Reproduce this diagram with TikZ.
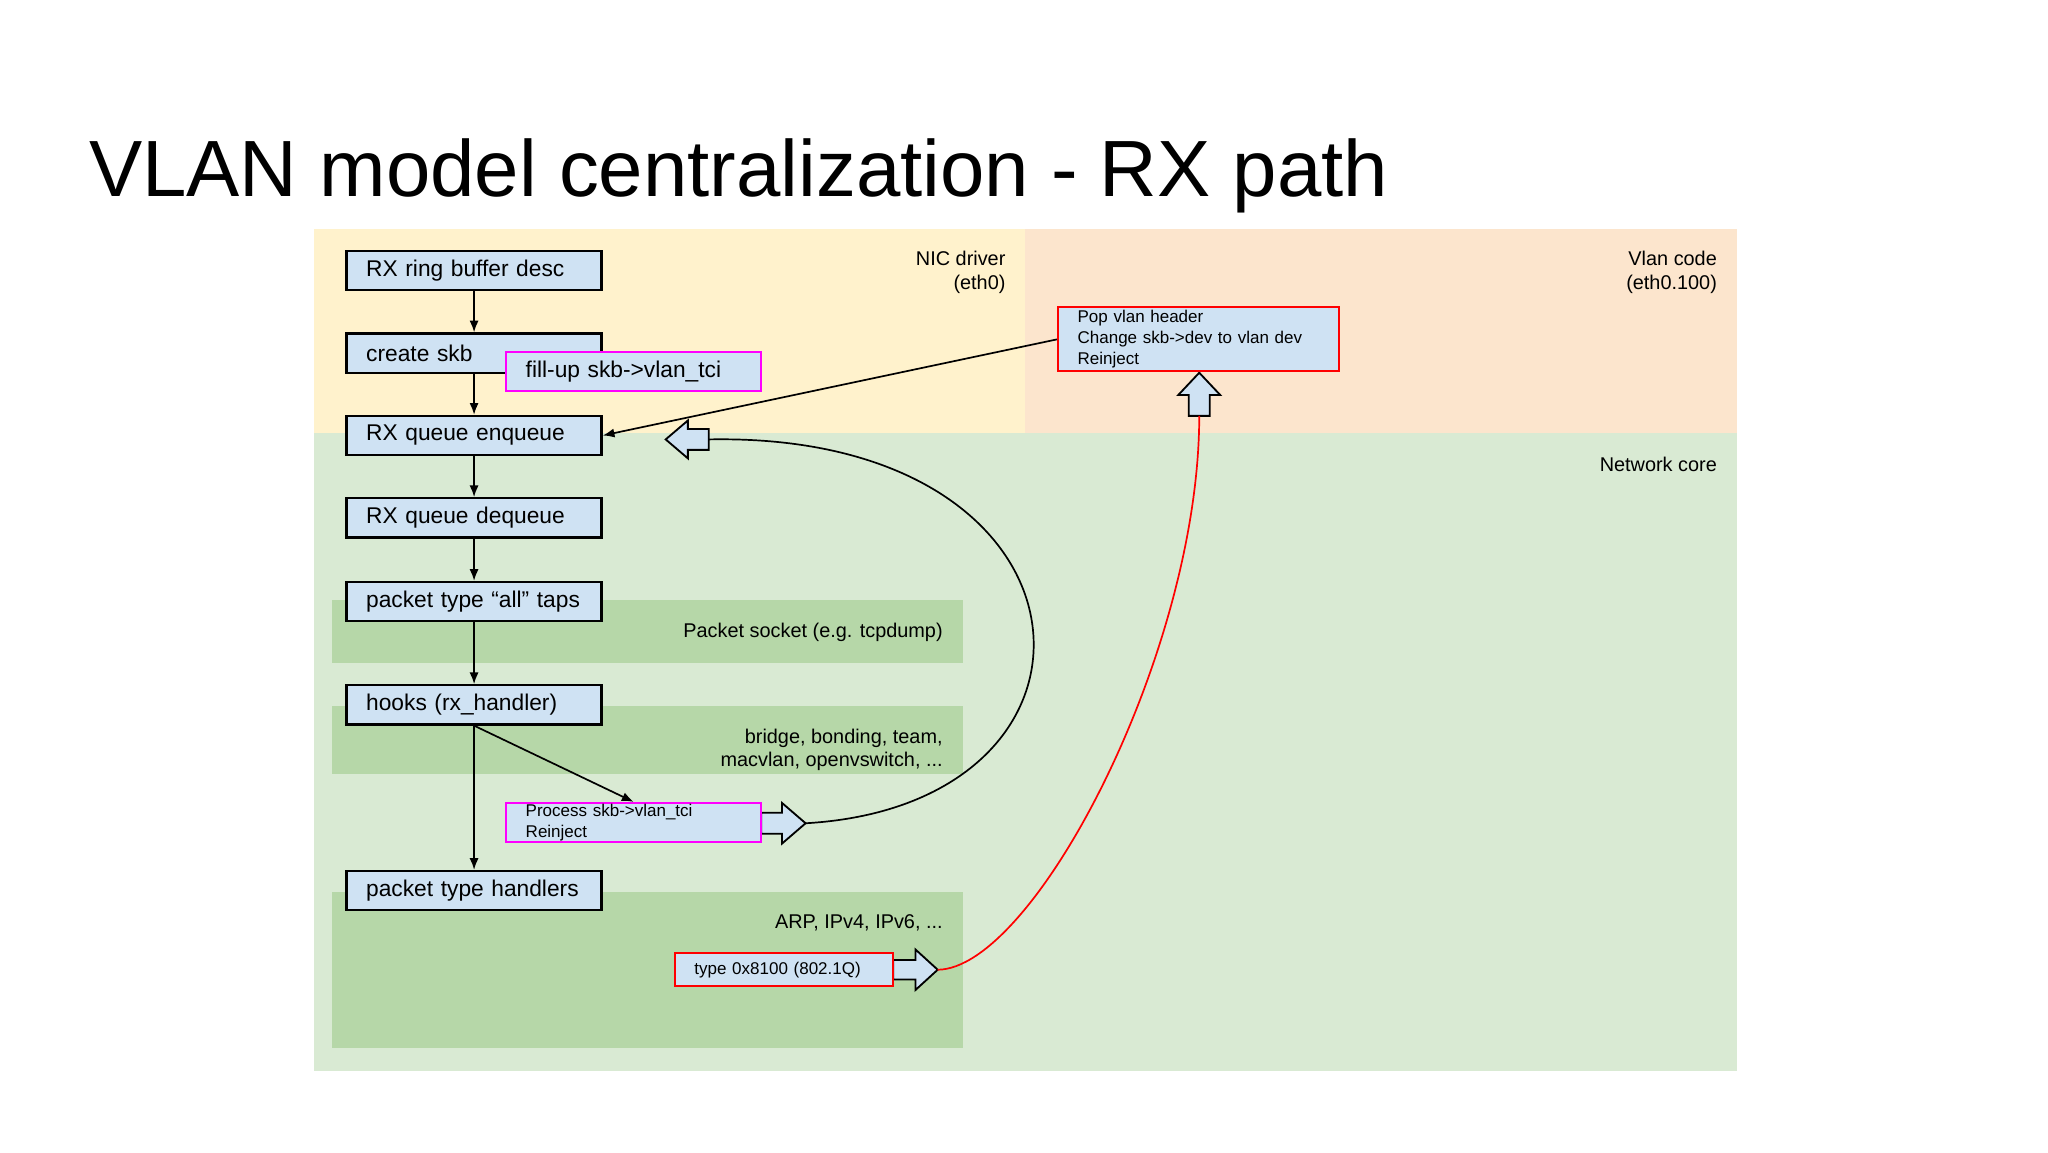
\documentclass[tikz,border=0pt]{standalone}
\usepackage{fontspec}
\setmainfont{Liberation Sans}
\usetikzlibrary{arrows.meta}
\definecolor{nicy}{HTML}{FFF2CC}
\definecolor{vlanor}{HTML}{FCE5CD}
\definecolor{netgreen}{HTML}{D9EAD3}
\definecolor{bandgreen}{HTML}{B6D7A8}
\definecolor{boxblue}{HTML}{CFE2F3}
\definecolor{magborder}{HTML}{FF00FF}
\definecolor{redborder}{HTML}{FF0000}
\newcommand{\boxfont}{\fontsize{17.4pt}{20pt}\selectfont}
\newcommand{\smallfont}{\fontsize{13pt}{16pt}\selectfont}
\newcommand{\labelfont}{\fontsize{15.2pt}{18pt}\selectfont}
\begin{document}
\begin{tikzpicture}[x=1pt,y=-1pt,
  region/.style={draw=none},
  stepbox/.style={draw=black, line width=1.7pt, fill=boxblue, minimum width=195pt,
    minimum height=30pt, inner xsep=15pt, inner ysep=0pt, text width=165pt,
    align=left, font=\boxfont},
  magbox/.style={stepbox, draw=magborder},
  redbox/.style={draw=redborder, line width=1.6pt, fill=boxblue, inner xsep=15pt,
    inner ysep=0pt, align=left, font=\smallfont},
  conn/.style={draw=black, line width=1.3pt, -{Latex[length=9pt,width=7pt]}},
  blockarrow/.style={draw=black, line width=1.4pt, fill=boxblue, line join=miter},
  arealabel/.style={anchor=north east, inner sep=0pt, align=right, font=\labelfont}
]
\useasboundingbox[fill=white] (0,0) rectangle (1566,880.9);

% regions
\fill[nicy] (240,175) rectangle (784,331);
\fill[vlanor] (784,175) rectangle (1328,331);
\fill[netgreen] (240,331) rectangle (1328,819);
\fill[bandgreen] (254,459) rectangle (736,507);
\fill[bandgreen] (254,540) rectangle (736,592);
\fill[bandgreen] (254,682) rectangle (736,801);

% title
\node[anchor=base west, inner sep=0pt, font=\fontsize{61pt}{70pt}\selectfont] (title) at (68,150) {VLAN model centralization - RX path};

% area labels
\node[arealabel] (nicl) at (769,192) {NIC driver\\(eth0)};
\node[arealabel] (vlanl) at (1313,192) {Vlan code\\(eth0.100)};
\node[arealabel] (netl) at (1313,349) {Network core};
\node[arealabel] (sockl) at (721,476) {Packet socket (e.g. tcpdump)};
\node[arealabel] (hookl) at (721,557) {bridge, bonding, team,\\macvlan, openvswitch, ...};
\node[arealabel] (arpl) at (721,699) {ARP, IPv4, IPv6, ...};

% block arrows
\draw[blockarrow] (509,336) -- (526,321.5) -- (526,328) -- (542,328) -- (542,344) -- (526,344) -- (526,350.5) -- cycle;
\coordinate (leftarrowtail) at (542,336);
\draw[blockarrow] (582,621.5) -- (598,621.5) -- (598,614) -- (616,629.5) -- (598,645) -- (598,637.5) -- (582,637.5) -- cycle;
\coordinate (procarrowtip) at (616,629.5);
\draw[blockarrow] (683,734) -- (700,734) -- (700,726) -- (717,741.5) -- (700,757) -- (700,749) -- (683,749) -- cycle;
\coordinate (typearrowtip) at (717,741.5);
\draw[blockarrow] (917,285) -- (933,302) -- (925,302) -- (925,318) -- (909,318) -- (909,302) -- (901,302) -- cycle;
\coordinate (uparrowtail) at (917,318);

% boxes
\node[stepbox] (ring) at (362.5,207) {RX ring buffer desc};
\node[stepbox] (skb) at (362.5,270) {create skb};
\node[magbox] (fill) at (484.5,284) {fill-up skb->vlan\_tci};
\node[stepbox] (enq) at (362.5,333) {RX queue enqueue};
\node[stepbox] (deq) at (362.5,396) {RX queue dequeue};
\node[stepbox] (taps) at (362.5,460) {packet type “all” taps};
\node[stepbox] (hooks) at (362.5,539) {hooks (rx\_handler)};
\node[magbox, font=\smallfont] (proc) at (484.5,629) {Process skb->vlan\_tci\\Reinject};
\node[stepbox] (handlers) at (362.5,681) {packet type handlers};
\node[redbox, minimum width=167pt, minimum height=25pt, text width=137pt] (type) at (599.5,741.5) {type 0x8100 (802.1Q)};
\node[redbox, minimum width=215pt, minimum height=49pt, text width=185pt] (pop) at (916.5,259.5) {Pop vlan header\\Change skb->dev to vlan dev\\Reinject};

% connectors
\draw[conn] (ring) -- (skb);
\draw[conn] (skb) -- (enq);
\draw[conn] (enq) -- (deq);
\draw[conn] (deq) -- (taps);
\draw[conn] (taps) -- (hooks);
\draw[conn] (hooks) -- (handlers);
\draw[conn] (hooks.south) -- (proc.north);
\draw[conn] (pop.west) -- (enq.east);
\draw[black, line width=1.3pt] (procarrowtip) .. controls (868,615) and (850,330) .. (leftarrowtail);
\draw[redborder, line width=1.3pt] (typearrowtip) .. controls (790,741) and (917,500) .. (uparrowtail);
\end{tikzpicture}
\end{document}
